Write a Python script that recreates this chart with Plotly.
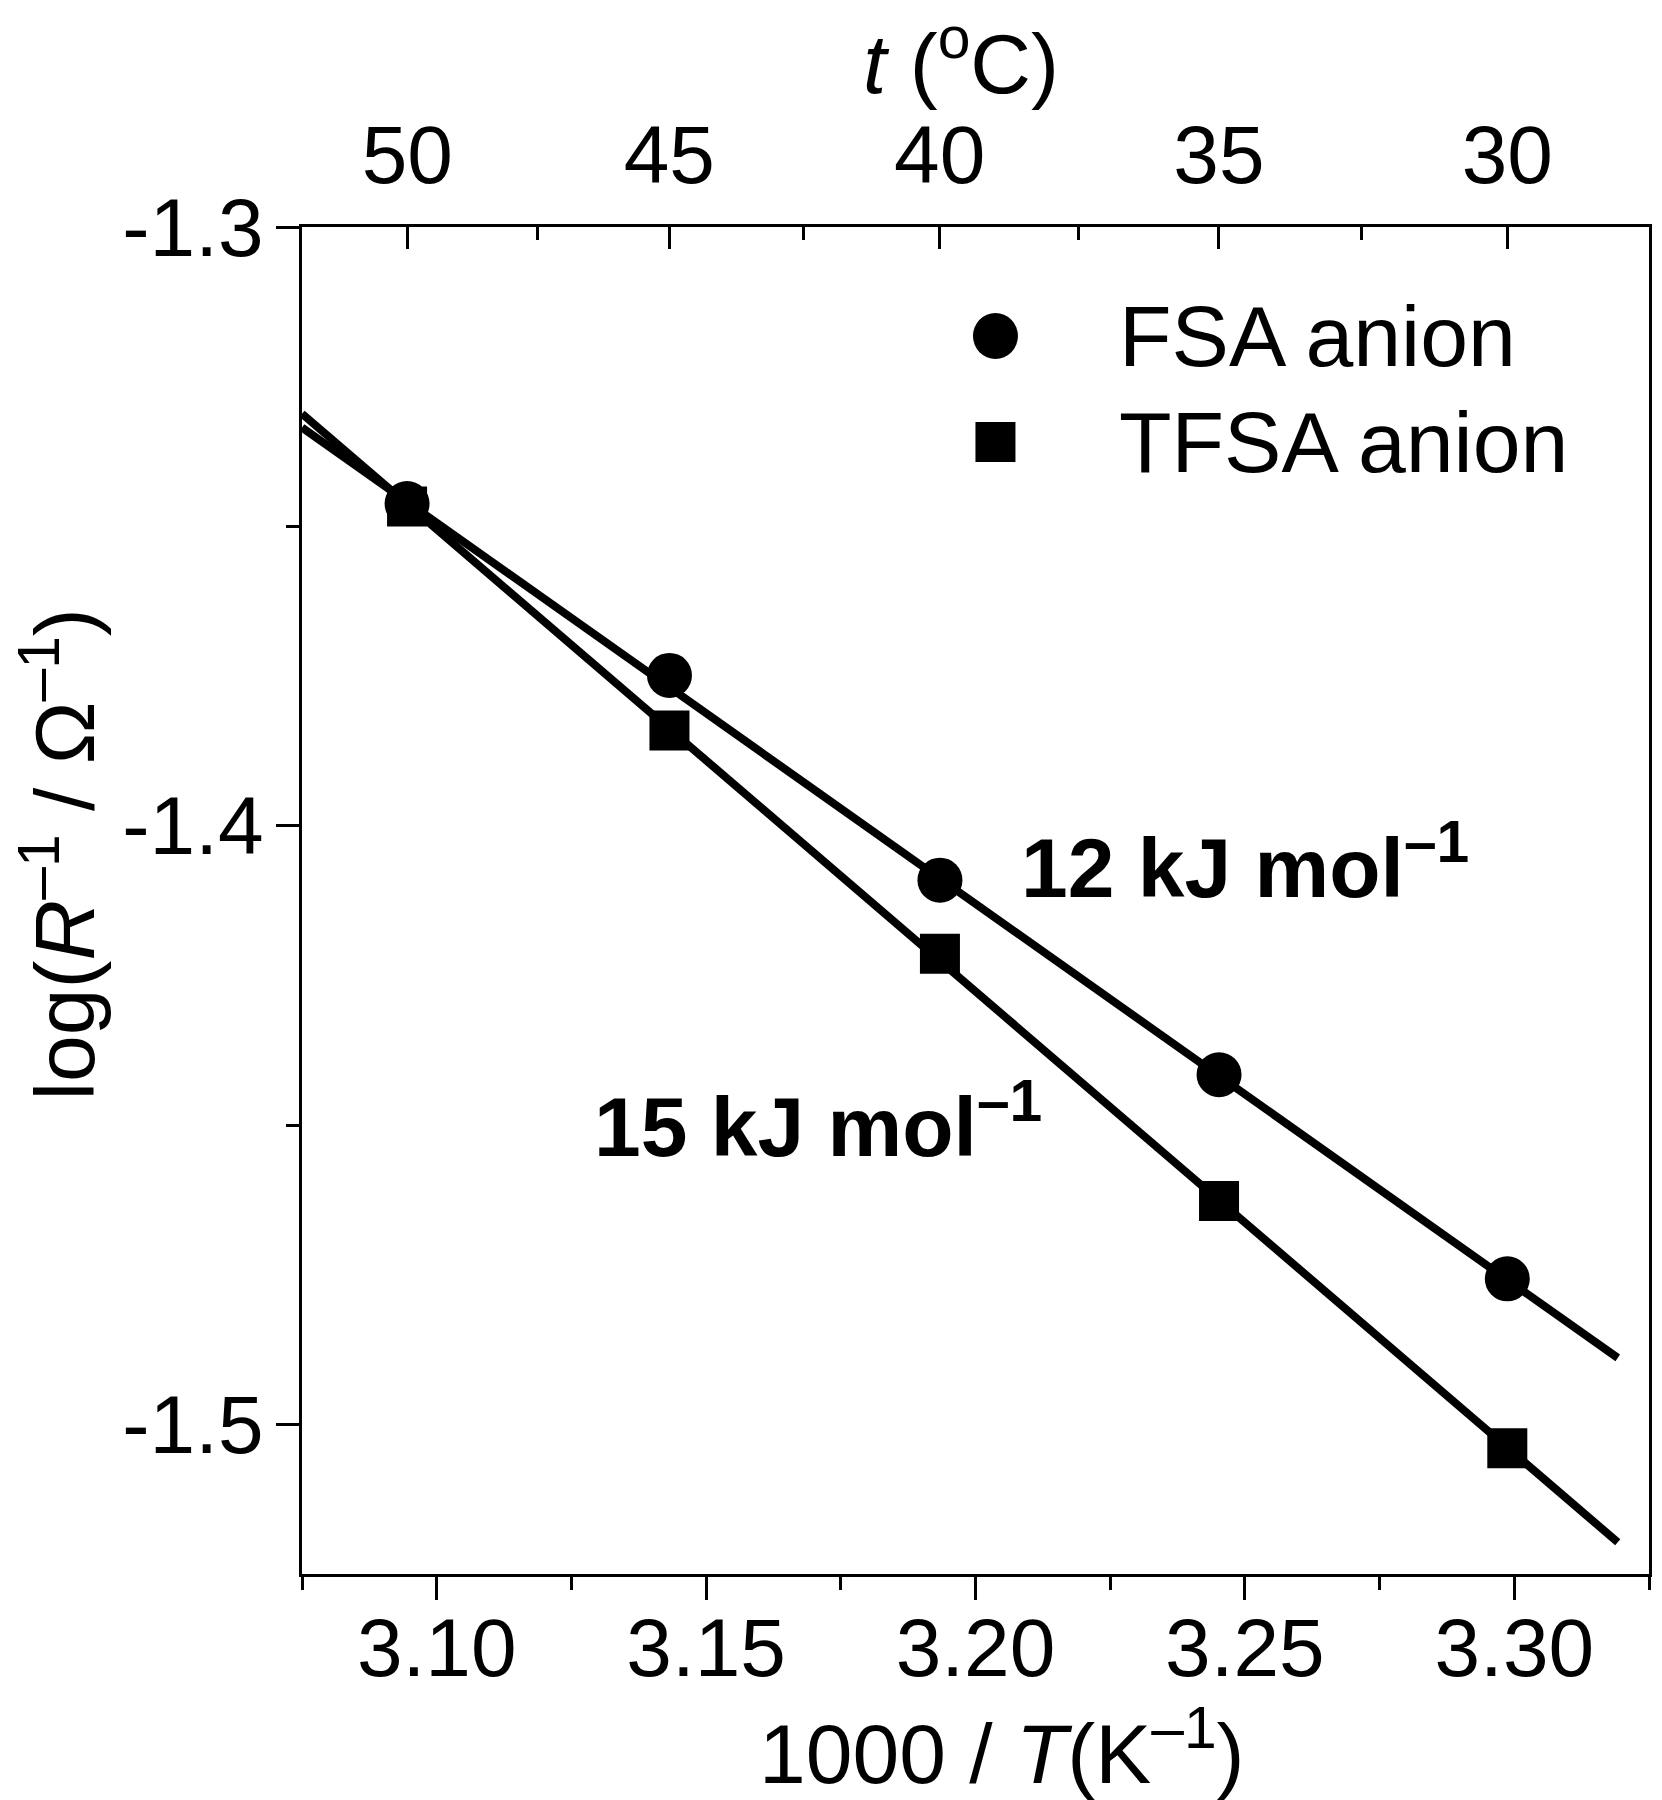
import plotly.graph_objects as go

# ---- data ----
inv_T = [3.0945, 3.1432, 3.1934, 3.2452, 3.2987]          # 1000/T (K^-1)
fsa = [-1.3462, -1.3749, -1.4091, -1.4416, -1.4757]        # FSA anion
tfsa = [-1.3467, -1.3841, -1.4214, -1.4627, -1.5040]       # TFSA anion
fit_x = [3.075, 3.3192]
fsa_fit = [-1.3335, -1.4889]
tfsa_fit = [-1.3312, -1.5197]

top_temps = [50, 45, 40, 35, 30]          # t (degC) labels on the top axis
top_minor_temps = [47.5, 42.5, 37.5, 32.5]
bottom_ticks = [3.10, 3.15, 3.20, 3.25, 3.30]
bottom_minor = [3.075, 3.125, 3.175, 3.225, 3.275, 3.325]
y_ticks = [-1.3, -1.4, -1.5]
y_ticktext = ["-1.3", "-1.4", "-1.5"]
y_minor = [-1.35, -1.45]

FONT = "Liberation Sans, Arial, Helvetica, sans-serif"
BLACK = "#000000"

top_pos = [1000.0 / (t + 273.15) for t in top_temps]
top_minor_pos = [1000.0 / (t + 273.15) for t in top_minor_temps]

fig = go.Figure()
fig.add_trace(go.Scatter(x=fit_x, y=fsa_fit, mode="lines",
                         line=dict(color=BLACK, width=8), showlegend=False, hoverinfo="skip"))
fig.add_trace(go.Scatter(x=fit_x, y=tfsa_fit, mode="lines",
                         line=dict(color=BLACK, width=8), showlegend=False, hoverinfo="skip"))
fig.add_trace(go.Scatter(x=inv_T, y=tfsa, mode="markers", name="TFSA anion",
                         marker=dict(symbol="square", size=40, color=BLACK, line=dict(width=0)),
                         showlegend=False))
fig.add_trace(go.Scatter(x=inv_T, y=fsa, mode="markers", name="FSA anion",
                         marker=dict(symbol="circle", size=45, color=BLACK, line=dict(width=0)),
                         showlegend=False))
# invisible trace to anchor the top (temperature) axis
fig.add_trace(go.Scatter(x=inv_T, y=fsa, xaxis="x2", mode="markers",
                         marker=dict(opacity=0), showlegend=False, hoverinfo="skip"))

tickfont = dict(family=FONT, size=82, color=BLACK)

fig.update_layout(
    width=1662, height=1800,
    margin=dict(l=302, r=10, t=227, b=226),
    paper_bgcolor="white", plot_bgcolor="white",
    showlegend=False,
    xaxis=dict(range=[3.075, 3.325], tickmode="array", tickvals=bottom_ticks,
               ticktext=["%.2f" % v for v in bottom_ticks],
               ticks="outside", ticklen=23, tickwidth=3, tickcolor=BLACK,
               showline=True, linecolor=BLACK, linewidth=3, mirror=False,
               showgrid=False, zeroline=False, tickfont=tickfont,
               ticklabelstandoff=-22,
               minor=dict(tickmode="array", tickvals=bottom_minor, ticks="outside",
                          ticklen=13, tickwidth=3, tickcolor=BLACK, showgrid=False)),
    xaxis2=dict(range=[3.075, 3.325], overlaying="x", side="top", anchor="y",
                tickmode="array", tickvals=top_pos, ticktext=[str(t) for t in top_temps],
                ticks="inside", ticklen=22, tickwidth=3, tickcolor=BLACK,
                showline=True, linecolor=BLACK, linewidth=3,
                showgrid=False, zeroline=False, tickfont=tickfont,
                ticklabelstandoff=8,
                minor=dict(tickmode="array", tickvals=top_minor_pos, ticks="inside",
                           ticklen=13, tickwidth=3, tickcolor=BLACK, showgrid=False)),
    yaxis=dict(range=[-1.525, -1.3], tickmode="array", tickvals=y_ticks, ticktext=y_ticktext,
               ticks="outside", ticklen=23, tickwidth=3, tickcolor=BLACK,
               showline=True, linecolor=BLACK, linewidth=3, mirror=True,
               showgrid=False, zeroline=False, tickfont=tickfont,
               ticklabelstandoff=-4,
               minor=dict(tickmode="array", tickvals=y_minor, ticks="outside",
                          ticklen=13, tickwidth=3, tickcolor=BLACK, showgrid=False)),
)

W, H = 1350.0, 1347.0
L, B = 302.0, 1574.0
def px(x):
    return (x - L) / W
def py(y):
    return (B - y) / H

ann_font = dict(family=FONT, size=84, color=BLACK)
leg_font = dict(family=FONT, size=86, color=BLACK)
annotations = [
    dict(text="1000 / <i>T</i>(K<sup>–1</sup>)", x=px(1004), y=py(1748), xref="paper", yref="paper",
         xanchor="center", yanchor="middle", showarrow=False, font=ann_font),
    dict(text="<i>t</i> (<sup>o</sup>C)", x=px(962), y=py(58), xref="paper", yref="paper",
         xanchor="center", yanchor="middle", showarrow=False, font=ann_font),
    dict(text="log(<i>R</i><sup>–1</sup> / Ω<sup>–1</sup>)", x=px(58), y=py(855),
         xref="paper", yref="paper", textangle=-90,
         xanchor="center", yanchor="middle", showarrow=False, font=ann_font),
    dict(text="<b>12 kJ mol<sup>–1</sup></b>", x=px(1021), y=py(862), xref="paper", yref="paper",
         xanchor="left", yanchor="middle", showarrow=False,
         font=dict(family=FONT, size=84, color=BLACK)),
    dict(text="<b>15 kJ mol<sup>–1</sup></b>", x=px(593), y=py(1121), xref="paper", yref="paper",
         xanchor="left", yanchor="middle", showarrow=False,
         font=dict(family=FONT, size=84, color=BLACK)),
    dict(text="FSA anion", x=px(1119), y=py(336), xref="paper", yref="paper",
         xanchor="left", yanchor="middle", showarrow=False, font=leg_font),
    dict(text="TFSA anion", x=px(1119), y=py(442), xref="paper", yref="paper",
         xanchor="left", yanchor="middle", showarrow=False, font=leg_font),
]
fig.update_layout(annotations=annotations)

# legend symbols
fig.add_shape(type="circle", xref="paper", yref="paper", xsizemode="pixel", ysizemode="pixel",
              xanchor=px(997), yanchor=py(336), x0=-22.5, x1=22.5, y0=-23, y1=23,
              fillcolor=BLACK, line=dict(width=0))
fig.add_shape(type="rect", xref="paper", yref="paper", xsizemode="pixel", ysizemode="pixel",
              xanchor=px(997), yanchor=py(442), x0=-20, x1=20, y0=-20, y1=20,
              fillcolor=BLACK, line=dict(width=0))

fig.write_html("out.html")
